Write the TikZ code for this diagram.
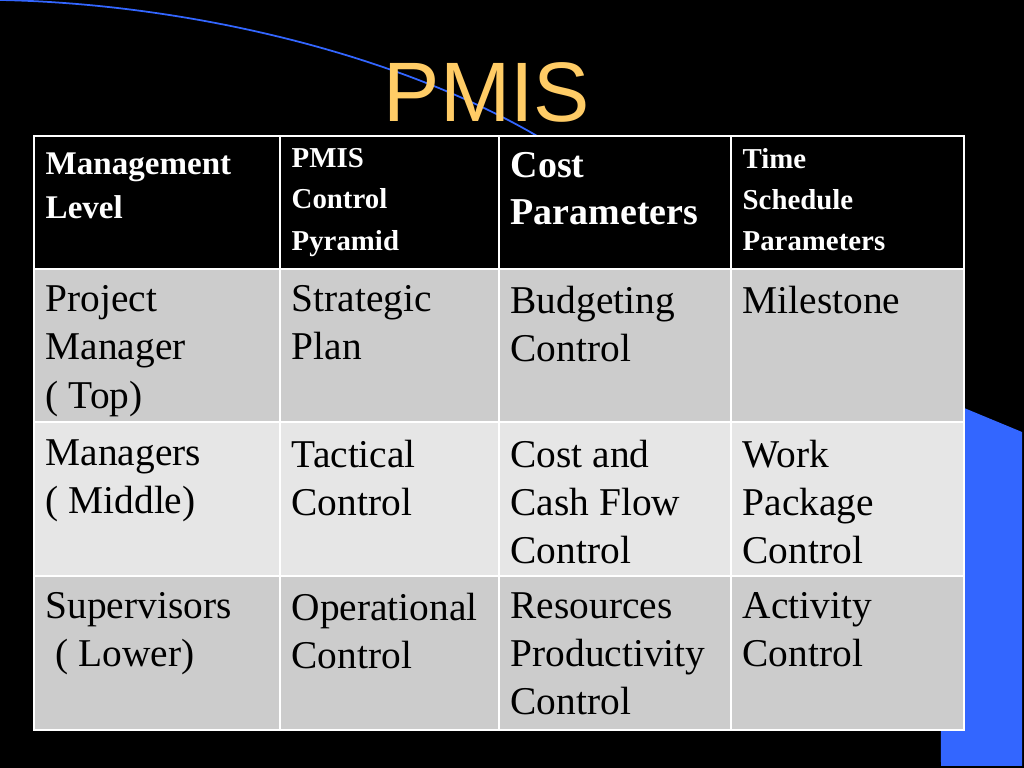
\documentclass[tikz,border=0pt]{standalone}
\usepackage{fontspec}
\setmainfont{Liberation Serif}
\newfontfamily\titlefont{Liberation Sans}
\definecolor{GoldPMIS}{HTML}{FFCC66}
\definecolor{BleuPMIS}{HTML}{3366FF}
\definecolor{GrisFonce}{HTML}{CCCCCC}
\definecolor{GrisClair}{HTML}{E6E6E6}
\usetikzlibrary{positioning}
\tikzset{
	head/.style = {anchor=north west, inner sep=0pt, text=white, align=left, font=\bfseries},
	cell/.style = {anchor=north west, inner sep=0pt, text=black, align=left,
		font=\fontsize{11.2pt}{13.7pt}\selectfont}
}
\begin{document}
\begin{tikzpicture}[x=0.01cm, y=-0.01cm]
	\fill[black] (0,0) rectangle (1024,768);
	\useasboundingbox (0,0) rectangle (1024,768);
	% decorations
	\fill[BleuPMIS] (940,398) -- (1022,432) -- (1022,766) -- (941,766) -- cycle;
	\draw[BleuPMIS, line width=0.5pt] (0,0) .. controls (200,4) and (420,60) .. (560,150);
	\node[text=GoldPMIS, font=\titlefont\fontsize{24pt}{24pt}\selectfont] (title) at (487,92) {PMIS};
	% table background
	\fill[black] (34,136) rectangle (964,269);
	\fill[GrisFonce] (34,269) rectangle (964,422);
	\fill[GrisClair] (34,422) rectangle (964,576);
	\fill[GrisFonce] (34,576) rectangle (964,730);
	\draw[white, line width=0.6pt] (34,136) rectangle (964,730);
	\foreach \x in {280,499,731} \draw[white, line width=0.6pt] (\x,136) -- (\x,730);
	\foreach \y in {269,422,576} \draw[white, line width=0.6pt] (34,\y) -- (964,\y);
	% header
	\node[head, font=\bfseries\fontsize{9.4pt}{12.5pt}\selectfont] (h1) at (45,152) {Management\\Level};
	\node[head, font=\bfseries\fontsize{8.2pt}{11.7pt}\selectfont] (h2) at (291,148) {PMIS\\Control\\Pyramid};
	\node[head, font=\bfseries\fontsize{10.8pt}{13.4pt}\selectfont] (h3) at (510,152) {Cost\\Parameters};
	\node[head, font=\bfseries\fontsize{8.2pt}{11.7pt}\selectfont] (h4) at (742,148) {Time\\Schedule\\Parameters};
	% body
	\node[cell] (a1) at (45,285) {Project\\Manager\\( Top)};
	\node[cell] (b1) at (291,285) {Strategic\\Plan};
	\node[cell] (c1) at (510,285) {Budgeting\\Control};
	\node[cell] (d1) at (742,285) {Milestone};
	\node[cell] (a2) at (45,439) {Managers\\( Middle)};
	\node[cell] (b2) at (291,439) {Tactical\\Control};
	\node[cell] (c2) at (510,439) {Cost and\\Cash Flow\\Control};
	\node[cell] (d2) at (742,439) {Work\\Package\\Control};
	\node[cell] (a3) at (45,592) {Supervisors\\\ ( Lower)};
	\node[cell] (b3) at (291,592) {Operational\\Control};
	\node[cell] (c3) at (510,592) {Resources\\Productivity\\Control};
	\node[cell] (d3) at (742,592) {Activity\\Control};
\end{tikzpicture}
\end{document}
